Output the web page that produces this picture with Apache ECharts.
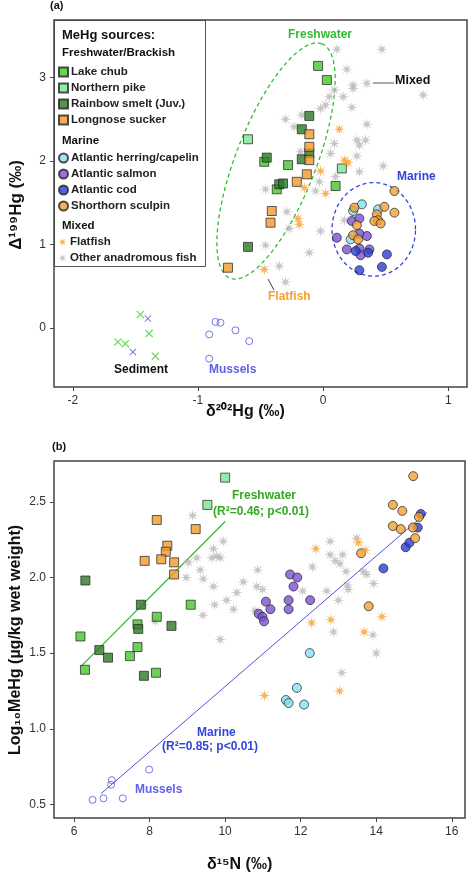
<!DOCTYPE html>
<html><head><meta charset="utf-8">
<script src="https://cdn.jsdelivr.net/npm/echarts@6/dist/echarts.min.js"></script>
<style>html,body{margin:0;padding:0;background:#fff}#c{width:474px;height:877px}</style>
</head><body><div id="c"></div>
<script>
// ---------- Panel (a): [δ202Hg, Δ199Hg] ----------
const aLakeChub = [[-0.04,3.14],[0.03,2.97],[-0.47,1.99],[-0.28,1.95],[-0.37,1.66],[0.10,1.70]];
const aNorthernPike = [[-0.60,2.26],[0.15,1.91]];
const aRainbowSmelt = [[-0.11,2.54],[-0.17,2.38],[-0.45,2.04],[-0.17,2.02],[-0.11,2.09],[-0.35,1.72],[-0.32,1.73],[-0.60,0.97]];
const aLongnose = [[-0.11,2.32],[-0.11,2.17],[-0.11,2.01],[-0.13,1.84],[-0.21,1.75],[-0.41,1.40],[-0.42,1.26],[-0.76,0.72]];
const aHerring = [[0.31,1.48],[0.24,1.40],[0.44,1.42],[0.22,1.06]];
const aSalmon = [[0.23,1.28],[0.29,1.31],[0.11,1.08],[0.35,1.10],[0.29,1.13],[0.19,0.94],[0.29,0.95],[0.37,0.94],[0.30,0.87]];
const aCod = [[0.29,0.69],[0.47,0.73],[0.51,0.88],[0.36,0.90],[0.26,0.92]];
const aSculpin = [[0.57,1.64],[0.57,1.38],[0.49,1.45],[0.43,1.36],[0.44,1.29],[0.41,1.28],[0.46,1.25],[0.25,1.44],[0.27,1.23],[0.24,1.11],[0.28,1.06]];
const aFlatfish = [[0.13,2.38],[0.17,2.01],[0.20,1.98],[-0.02,1.88],[0.02,1.61],[-0.15,1.68],[-0.20,1.31],[-0.19,1.24],[-0.47,0.70]];
const aOther = [[0.11,3.34],[0.47,3.34],[0.19,3.10],[0.35,2.93],[0.24,2.87],[0.24,2.91],[0.80,2.79],[0.09,2.85],[0.05,2.77],[0.02,2.67],[-0.02,2.63],[0.16,2.77],[0.23,2.64],[-0.30,2.50],[-0.17,2.55],[-0.23,2.41],[0.35,2.44],[0.27,2.25],[0.34,2.25],[0.29,2.19],[0.09,2.21],[0.06,2.09],[0.27,2.06],[0.48,1.94],[0.29,1.87],[-0.18,2.11],[0.10,1.81],[-0.03,1.75],[-0.06,1.64],[-0.46,1.66],[-0.29,1.39],[-0.27,1.19],[-0.02,1.16],[-0.46,0.99],[-0.11,0.90],[-0.35,0.74],[-0.30,0.55],[0.17,1.29]];
const aSedGreen = [[-1.46,0.16],[-1.39,-0.07],[-1.64,-0.17],[-1.58,-0.19],[-1.34,-0.34]];
const aSedBlue = [[-1.40,0.11],[-1.52,-0.29]];
const aMussels = [[-0.86,0.07],[-0.82,0.06],[-0.91,-0.08],[-0.70,-0.03],[-0.59,-0.16],[-0.91,-0.37]];
const aXTicks = [-2,-1,0,1];
const aYTicks = [0,1,2,3];

// ---------- Panel (b): [δ15N, log10 MeHg] ----------
const bLakeChub = [[6.17,1.61],[6.29,1.39],[7.48,1.48],[7.68,1.54],[8.19,1.74],[9.09,1.82],[8.17,1.37],[7.68,1.69]];
const bNorthernPike = [[10.0,2.66],[9.53,2.48]];
const bRainbowSmelt = [[6.30,1.98],[6.67,1.52],[6.90,1.47],[7.70,1.66],[7.77,1.82],[7.85,1.35],[8.58,1.68]];
const bLongnose = [[8.19,2.38],[9.22,2.32],[8.47,2.21],[8.43,2.17],[7.87,2.11],[8.31,2.12],[8.65,2.10],[8.65,2.02]];
const bHerring = [[12.24,1.50],[11.90,1.27],[11.61,1.19],[11.68,1.17],[12.09,1.16]];
const bSalmon = [[11.72,2.02],[11.91,2.00],[11.81,1.94],[11.08,1.84],[11.20,1.79],[11.68,1.85],[11.68,1.79],[12.25,1.85],[10.89,1.76],[10.99,1.74],[11.03,1.71]];
const bCod = [[14.19,2.06],[14.78,2.20],[14.88,2.23],[15.10,2.33],[15.18,2.42]];
const bSculpin = [[14.98,2.67],[14.44,2.48],[14.69,2.44],[14.44,2.34],[14.65,2.32],[14.97,2.33],[15.13,2.40],[15.03,2.26],[13.60,2.16],[13.80,1.81]];
const bFlatfish = [[12.40,2.19],[13.53,2.23],[13.71,2.18],[12.29,1.70],[12.80,1.72],[13.68,1.64],[14.15,1.74],[11.04,1.22],[13.03,1.25]];
const bOther = [[9.14,2.41],[9.95,2.24],[9.69,2.19],[9.78,2.14],[9.65,2.13],[9.87,2.13],[9.25,2.13],[9.03,2.10],[8.97,2.00],[9.34,2.05],[9.42,1.99],[9.69,1.94],[10.48,1.97],[10.31,1.90],[10.04,1.85],[9.72,1.82],[10.22,1.79],[9.41,1.75],[10.86,2.05],[10.84,1.94],[10.99,1.92],[10.79,1.78],[9.87,1.59],[7.84,1.82],[8.15,1.71],[12.05,1.91],[12.31,2.07],[12.78,2.24],[12.78,2.15],[13.11,2.15],[12.91,2.11],[13.04,2.09],[13.20,2.04],[13.23,1.95],[13.26,1.92],[12.69,1.91],[13.00,1.85],[13.48,2.26],[13.66,2.04],[13.75,2.02],[13.93,1.96],[12.87,1.64],[13.91,1.62],[14.00,1.50],[13.09,1.37]];
const bMussels = [[6.49,0.53],[6.78,0.54],[7.0,0.66],[6.98,0.63],[7.29,0.54],[7.99,0.73]];
const bFreshFit = [[6.18,1.41],[10.0,2.37]];
const bMarineFit = [[6.71,0.57],[15.34,2.43]];
const bXTicks = [6,8,10,12,14,16];
const bYTicks = [0.5,1.0,1.5,2.0,2.5];

const C = {lake:'#45c82c', pike:'#78e690', smelt:'#2b7a24', sucker:'#f39a2c', herring:'#86e0f2', salmon:'#7a52d4', cod:'#2b3fd6', sculpin:'#f1a034', flat:'#f5a030', other:'#b8b8b8', blue:'#5555e0', green:'#2fbf2f'};

function star(n, inner){
  let s='path://';
  for(let k=0;k<2*n;k++){const r=k%2?inner:50;const a=k*Math.PI/n-Math.PI/2;
    s+=(k?'L':'M')+(50+r*Math.cos(a)).toFixed(2)+','+(50+r*Math.sin(a)).toFixed(2);}
  return s+'Z';
}
const STAR = star(8,16);
const XSYM = 'path://M0,2 L2,0 L10,8 L18,0 L20,2 L12,10 L20,18 L18,20 L10,12 L2,20 L0,18 L8,10 Z';

function ellipse(cx,cy,rxPx,ryPx,angDeg,pxX,pxY){
  const pts=[],a=angDeg*Math.PI/180;
  for(let i=0;i<=100;i++){const t=i/100*2*Math.PI;
    const u=rxPx*Math.cos(t), v=ryPx*Math.sin(t);
    const dx=u*Math.cos(a)-v*Math.sin(a), dy=u*Math.sin(a)+v*Math.cos(a);
    pts.push([cx+dx/pxX, cy+dy/pxY]);}
  return pts;
}
const freshEll = ellipse(-0.376,2.0,125.7,40,68.6,125,83.3);
const marineEll = ellipse(0.405,1.18,41.7,46.7,0,125,83.3);

function sq(name,data,color,xi){return {name,type:'scatter',xAxisIndex:xi,yAxisIndex:xi,data,symbol:'rect',symbolSize:9,itemStyle:{color,borderColor:'#222',borderWidth:0.9}};}
function ci(name,data,color,xi){return {name,type:'scatter',xAxisIndex:xi,yAxisIndex:xi,data,symbol:'circle',symbolSize:9,itemStyle:{color,borderColor:'#222',borderWidth:0.9}};}
function st(name,data,color,xi,sym,size){return {name,type:'scatter',xAxisIndex:xi,yAxisIndex:xi,data,symbol:sym,symbolSize:size,itemStyle:{color}};}
function ln(data,color,xi,dash,w){return {type:'line',xAxisIndex:xi,yAxisIndex:xi,data,symbol:'none',silent:true,lineStyle:{color,width:w||1,type:dash?[4,3]:'solid'},z:1};}

const F='Liberation Sans';
const axLbl={color:'#333',fontSize:12,fontFamily:F};
const series=[
  ln(freshEll,C.green,0,true,1.3), ln(marineEll,'#3344dd',0,true,1.3),
  st('Other anadromous fish',aOther,C.other,0,STAR,12),
  sq('Lake chub',aLakeChub,C.lake,0), sq('Northern pike',aNorthernPike,C.pike,0),
  sq('Rainbow smelt (Juv.)',aRainbowSmelt,C.smelt,0), sq('Longnose sucker',aLongnose,C.sucker,0),
  ci('Atlantic herring/capelin',aHerring,C.herring,0), ci('Atlantic salmon',aSalmon,C.salmon,0),
  ci('Atlantic cod',aCod,C.cod,0), ci('Shorthorn sculpin',aSculpin,C.sculpin,0),
  st('Flatfish',aFlatfish,C.flat,0,STAR,12),
  st('sedg',aSedGreen,C.lake,0,XSYM,8), st('sedb',aSedBlue,C.blue,0,XSYM,7),
  {type:'scatter',xAxisIndex:0,yAxisIndex:0,data:aMussels,symbol:'circle',symbolSize:7,itemStyle:{color:'none',borderColor:C.blue,borderWidth:1}},
  st('bo',bOther,C.other,1,STAR,12),
  ln(bFreshFit,'#2fae2f',1,false,1.1), ln(bMarineFit,'#5050dd',1,false,1),
  sq('bl',bLakeChub,C.lake,1), sq('bp',bNorthernPike,C.pike,1), sq('bs',bRainbowSmelt,C.smelt,1), sq('bn',bLongnose,C.sucker,1),
  ci('bh',bHerring,C.herring,1), ci('bsa',bSalmon,C.salmon,1), ci('bc',bCod,C.cod,1), ci('bsc',bSculpin,C.sculpin,1),
  st('bf',bFlatfish,C.flat,1,STAR,12),
  {type:'scatter',xAxisIndex:1,yAxisIndex:1,data:bMussels,symbol:'circle',symbolSize:7,itemStyle:{color:'none',borderColor:C.blue,borderWidth:1}}
];

function T(x,y,text,o){return {type:'text',left:x,top:y,style:Object.assign({text,fill:'#111',font:'bold 12px '+F},o||{})};}
const legText={fontSize:11.5,fontWeight:'bold',color:'#222',fontFamily:F};
function leg(top,names){return {top,left:58,orient:'vertical',itemWidth:9,itemHeight:9,itemGap:4,padding:0,textStyle:Object.assign({padding:[0,0,0,-2]},legText),data:names,selectedMode:false};}
function xa(min,max,gi,ticks){return {min,max,gridIndex:gi,splitLine:{show:false},axisLine:{show:false,onZero:false},axisLabel:Object.assign({customValues:ticks},axLbl),axisTick:{show:true,customValues:ticks,length:4,lineStyle:{color:'#444'}}};}

const chart=echarts.init(document.getElementById('c'));
chart.setOption({
  animation:false,
  grid:[{left:54,top:20,width:413,height:367,show:true,borderColor:'#444',borderWidth:1.5},
        {left:54,top:461,width:411,height:357,show:true,borderColor:'#444',borderWidth:1.5}],
  xAxis:[xa(-2.15,1.15,0,aXTicks), xa(5.47,16.35,1,bXTicks)],
  yAxis:[xa(-0.71,3.69,0,aYTicks), Object.assign(xa(0.41,2.77,1,bYTicks),{axisLabel:Object.assign({customValues:bYTicks,formatter:v=>v.toFixed(1)},axLbl)})],
  legend:[leg(66,['Lake chub','Northern pike','Rainbow smelt (Juv.)','Longnose sucker']),
          leg(152,['Atlantic herring/capelin','Atlantic salmon','Atlantic cod','Shorthorn sculpin']),
          leg(236,['Flatfish','Other anadromous fish'])],
  graphic:[
    {type:'rect',left:54,top:20,shape:{width:151,height:246},style:{fill:'#fff',stroke:'#555',lineWidth:1},z:-1},
    T(62,29,'MeHg sources:',{font:'bold 13px '+F}),
    T(62,47,'Freshwater/Brackish',{font:'bold 11.5px '+F}),
    T(62,135,'Marine',{font:'bold 11.5px '+F}),
    T(62,220,'Mixed',{font:'bold 11.5px '+F}),
    T(50,0,'(a)',{font:'bold 11px '+F}),
    T(288,29,'Freshwater',{fill:'#33bb33',font:'bold 12px '+F}),
    {type:'line',shape:{x1:373,y1:83,x2:394,y2:83},style:{stroke:'#555',lineWidth:1}},
    T(395,74,'Mixed',{font:'bold 12.5px '+F}),
    T(397,171,'Marine',{fill:'#3344dd',font:'bold 12px '+F}),
    {type:'line',shape:{x1:268,y1:279,x2:274,y2:290},style:{stroke:'#444',lineWidth:1}},
    T(268,291,'Flatfish',{fill:'#f5a030',font:'bold 12px '+F}),
    T(114,364,'Sediment',{font:'bold 12px '+F}),
    T(209,364,'Mussels',{fill:'#6060e8',font:'bold 12px '+F}),
    T(206,404,'δ\u00b2\u2070\u00b2Hg (‰)',{font:'bold 16px '+F}),
    {type:'text',x:16,y:205,rotation:Math.PI/2,style:{text:'Δ\u00b9\u2079\u2079Hg (‰)',fill:'#111',font:'bold 17px '+F,align:'center',verticalAlign:'middle'}},
    T(52,441,'(b)',{font:'bold 11px '+F}),
    T(232,490,'Freshwater',{fill:'#33aa22',font:'bold 12px '+F}),
    T(213,506,'(R\u00b2=0.46; p<0.01)',{fill:'#33aa22',font:'bold 12px '+F}),
    T(197,727,'Marine',{fill:'#3344dd',font:'bold 12px '+F}),
    T(162,741,'(R\u00b2=0.85; p<0.01)',{fill:'#3344dd',font:'bold 12px '+F}),
    T(135,784,'Mussels',{fill:'#6060e8',font:'bold 12px '+F}),
    T(207,857,'δ\u00b9\u2075N (‰)',{font:'bold 16px '+F}),
    {type:'text',x:16,y:640,rotation:Math.PI/2,style:{text:'Log\u2081\u2080MeHg (µg/kg wet weight)',fill:'#111',font:'bold 16px '+F,align:'center',verticalAlign:'middle'}}
  ],
  series
});
</script></body></html>
